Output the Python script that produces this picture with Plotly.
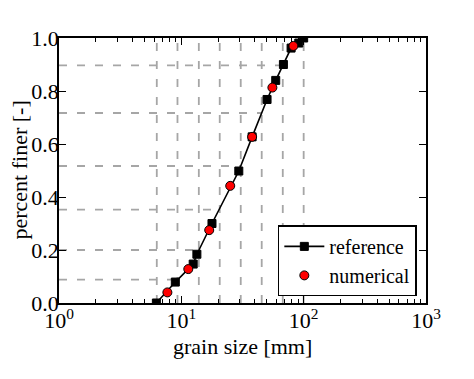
import numpy as np
import plotly.graph_objects as go

# reference grading curve
ref_d = [6.25, 8.93, 12.5, 13.4, 17.8, 29.5, 37.9, 50.2, 59.1, 68.3, 78.9, 91.2, 100]
ref_p = [0.0, 0.079, 0.147, 0.184, 0.30, 0.498, 0.627, 0.768, 0.84, 0.90, 0.962, 0.981, 1.0]

# numerical result
num_d = [7.69, 11.4, 16.9, 25.1, 37.9, 55.5, 82.4]
num_p = [0.040, 0.128, 0.275, 0.442, 0.627, 0.813, 0.970]

# dashed guide lines
sieve_d = [6.3, 9.3, 13.9, 20.6, 30.6, 45.4, 67.5, 100]
level_p = [0.088, 0.2, 0.352, 0.517, 0.717, 0.897]

x_tickvals = [1, 10, 100, 1000]
x_ticktext = ["10<sup>0</sup>", "10<sup>1</sup>", "10<sup>2</sup>", "10<sup>3</sup>"]
y_tickvals = [0.0, 0.2, 0.4, 0.6, 0.8, 1.0]
y_ticktext = ["0.0", "0.2", "0.4", "0.6", "0.8", "1.0"]

FONT = "Liberation Serif"
FS = 22
GRAY = "#a6a6a6"

fig = go.Figure()

for d in sieve_d:
    fig.add_trace(go.Scatter(x=[d, d], y=[0, 1], mode="lines",
                             line=dict(color=GRAY, width=1.8, dash="8px,10px"),
                             showlegend=False, hoverinfo="skip"))

log_ref = np.log10(ref_d)
for p in level_p:
    xe = 10 ** np.interp(p, ref_p, log_ref)
    fig.add_trace(go.Scatter(x=[1, xe], y=[p, p], mode="lines",
                             line=dict(color=GRAY, width=1.8, dash="8px,10px"),
                             showlegend=False, hoverinfo="skip"))

fig.add_trace(go.Scatter(x=ref_d, y=ref_p, mode="lines+markers", name="reference",
                         line=dict(color="black", width=1.6),
                         marker=dict(symbol="square", size=8, color="black",
                                     line=dict(color="black", width=1))))
fig.add_trace(go.Scatter(x=num_d, y=num_p, mode="markers", name="numerical",
                         marker=dict(symbol="circle", size=9, color="#ff0000",
                                     line=dict(color="black", width=1))))

minor_vals = [m * 10 ** e for e in range(0, 3) for m in range(2, 10)]

fig.update_layout(
    width=466, height=371,
    margin=dict(l=51, r=48, t=30, b=76, autoexpand=False),
    paper_bgcolor="white", plot_bgcolor="white",
    font=dict(family=FONT, size=FS, color="black"),
    legend=dict(x=0.975, y=0.025, xanchor="right", yanchor="bottom",
                bordercolor="black", borderwidth=1.5, bgcolor="white",
                font=dict(family=FONT, size=20), tracegroupgap=0,
                itemwidth=40),
    xaxis=dict(type="log", range=[0, 3],
               tickmode="array", tickvals=x_tickvals, ticktext=x_ticktext,
               ticks="inside", ticklen=7, tickwidth=1.2, tickcolor="black",
               minor=dict(tickmode="array", tickvals=minor_vals, ticks="inside",
                          ticklen=4, tickwidth=1, tickcolor="black", showgrid=False),
               showline=True, linecolor="black", linewidth=1.8, mirror="allticks",
               showgrid=False, zeroline=False,
               ticklabelstandoff=-3,
               tickfont=dict(family=FONT, size=FS)),
    yaxis=dict(range=[0, 1],
               tickmode="array", tickvals=y_tickvals, ticktext=y_ticktext,
               ticks="inside", ticklen=7, tickwidth=1.2, tickcolor="black",
               showline=True, linecolor="black", linewidth=1.8, mirror="allticks",
               showgrid=False, zeroline=False,
               ticklabelstandoff=-6,
               tickfont=dict(family=FONT, size=FS)),
    annotations=[
        dict(text="grain size [mm]", xref="paper", yref="paper", x=0.5, y=0,
             yshift=-43, xanchor="center", yanchor="middle", showarrow=False,
             font=dict(family=FONT, size=FS)),
        dict(text="percent finer [-]", xref="paper", yref="paper", x=0, y=0.5,
             xshift=-40, xanchor="center", yanchor="middle", textangle=-90,
             showarrow=False, font=dict(family=FONT, size=FS)),
    ],
)

fig.write_html("out.html")
